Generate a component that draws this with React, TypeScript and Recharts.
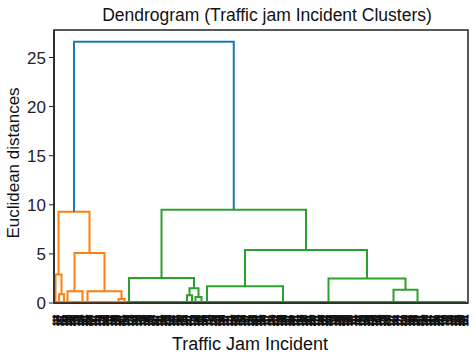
// Dendrogram of traffic jam incidents, drawn as U-shaped links on a numeric x-axis.
// Each link: [xLeft, xRight, mergeHeight, leftChildHeight, rightChildHeight]
// x is in leaf-axis units (0..414 across the plot), heights in euclidean distance.

import { LineChart, Line, XAxis, YAxis, ReferenceArea } from "recharts";

type Link = [number, number, number, number, number];

const blueLinks: Link[] = [[20, 179.75, 26.6, 9.3, 9.5]];

const orangeLinks: Link[] = [
  [4.5, 35.5, 9.3, 2.9, 5.1],
  [1.5, 7.5, 2.9, 0, 0.9],
  [5, 10, 0.9, 0, 0],
  [20.5, 50.5, 5.1, 1.2, 1.2],
  [13.5, 28.5, 1.2, 0, 0],
  [33.5, 67.5, 1.2, 0, 0.4],
  [64.5, 70.5, 0.4, 0, 0],
  [0.5, 73, 0.1, 0, 0],
];

const greenLinks: Link[] = [
  [107.5, 252, 9.5, 2.55, 5.4],
  [75, 140, 2.55, 0, 1.5],
  [135.5, 144.5, 1.5, 0.8, 0.6],
  [133, 138, 0.8, 0, 0],
  [141.5, 147.5, 0.6, 0, 0],
  [191, 313, 5.4, 1.7, 2.5],
  [153, 229, 1.7, 0, 0],
  [274.5, 351.5, 2.5, 0, 1.35],
  [339.5, 363.5, 1.35, 0, 0],
  [74, 411, 0.1, 0, 0],
];

const yTicks = [0, 5, 10, 15, 20, 25];

// leaf labels (unreadable in the source, estimated incident ids)
const leafIds = [
  "112", "147", "183", "105", "230", "119", "154", "161", "208", "197",
  "133", "176", "240", "112", "188", "139", "201", "156", "174", "163",
  "125", "118", "190", "109", "247", "131", "168", "215", "142", "101",
  "185", "103", "227", "179", "146", "152", "199", "114", "126", "233",
  "190", "137", "171", "220", "164", "108", "157", "129", "243", "181",
  "195", "117", "134", "212", "158", "166", "107", "249", "121", "194",
  "140", "181", "225", "171", "148", "122", "203", "115", "186", "236",
  "150", "160", "111", "192", "129", "166", "218", "135", "104", "178",
  "245", "127", "142", "177", "210", "102", "169", "199", "231", "145",
  "137", "187", "160", "222", "115", "110", "152", "184", "206", "131",
];

const X_MAX = 414;
const Y_MAX = 27.8;
const leafTicks = leafIds.map((_, i) => ((i + 0.5) * X_MAX) / leafIds.length);

const FONT = "'Liberation Sans', Arial, sans-serif";

function linkPoints(l: Link) {
  return [
    { x: l[0], y: l[3] },
    { x: l[0], y: l[2] },
    { x: l[1], y: l[2] },
    { x: l[1], y: l[4] },
  ];
}

function LeafTick(props: any) {
  const { x, y, index } = props;
  const ty = y + 4;
  return (
    <text
      x={x}
      y={ty}
      transform={`rotate(-90 ${x} ${ty})`}
      textAnchor="end"
      dy={2.2}
      fontSize={6.5}
      fontWeight="bold"
      fill="#000"
      stroke="#111"
      strokeWidth={1}
      fontFamily={FONT}
    >
      {leafIds[index]}
    </text>
  );
}

export default function App() {
  const groups: [Link[], string][] = [
    [orangeLinks, "#ff7f0e"],
    [greenLinks, "#2ca02c"],
    [blueLinks, "#1f77b4"],
  ];

  return (
    <div style={{ position: "absolute", left: 0, top: 0, width: 474, height: 355, background: "#fff", fontFamily: FONT }}>
      <div style={{ position: "absolute", left: 67, width: 400, top: 5, textAlign: "center", fontSize: 17.5, color: "#111", whiteSpace: "nowrap" }}>
        Dendrogram (Traffic jam Incident Clusters)
      </div>
      <div style={{ position: "absolute", left: 150, width: 200, top: 334, textAlign: "center", fontSize: 18, color: "#111", whiteSpace: "nowrap" }}>
        Traffic Jam Incident
      </div>
      <div
        style={{
          position: "absolute",
          left: 14,
          top: 163,
          transform: "translate(-50%, -50%) rotate(-90deg)",
          whiteSpace: "nowrap",
          fontSize: 17,
          color: "#111",
        }}
      >
        Euclidean distances
      </div>

      <LineChart width={474} height={355} margin={{ top: 30, right: 6, bottom: 22, left: 0 }}>
        <XAxis
          type="number"
          dataKey="x"
          domain={[0, X_MAX]}
          ticks={leafTicks}
          interval={0}
          tick={<LeafTick />}
          tickLine={false}
          axisLine={{ stroke: "#222", strokeWidth: 1.5 }}
          height={30}
          allowDataOverflow
        />
        <YAxis
          type="number"
          domain={[0, Y_MAX]}
          ticks={yTicks}
          width={54}
          tickSize={5}
          tickMargin={3}
          tick={{ fontSize: 17, fill: "#222", fontFamily: FONT }}
          tickLine={{ stroke: "#222" }}
          axisLine={{ stroke: "#222", strokeWidth: 1.5 }}
          allowDataOverflow
        />
        <ReferenceArea x1={0} x2={X_MAX} y1={0} y2={Y_MAX} fill="none" stroke="#222" strokeWidth={1.5} />
        {groups.map(([links, color], gi) =>
          links.map((l, i) => (
            <Line
              key={`${gi}-${i}`}
              data={linkPoints(l)}
              dataKey="y"
              type="linear"
              stroke={color}
              strokeWidth={2}
              dot={false}
              activeDot={false}
              isAnimationActive={false}
            />
          ))
        )}
      </LineChart>
    </div>
  );
}
